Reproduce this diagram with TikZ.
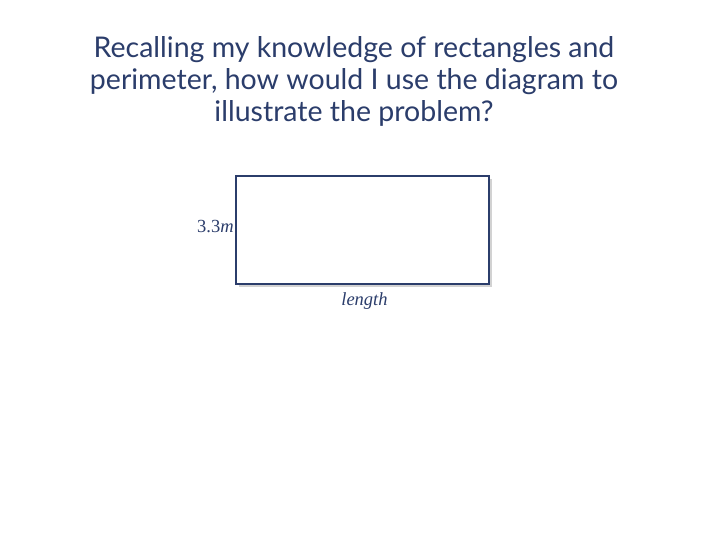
\documentclass[tikz,border=0pt]{standalone}
\usepackage{fontspec}
\setmainfont{Lato}
\newfontfamily\labelfont{Liberation Serif}
\usepackage{tikz}
\usetikzlibrary{positioning}
\definecolor{navy}{HTML}{2B3D6B}
\tikzset{
	title/.style={text=navy, align=center, font=\fontsize{28.5}{32}\selectfont},
	sidelabel/.style={text=navy, font=\labelfont\fontsize{18.5}{20}\selectfont},
	box/.style={draw=navy, line width=1.6pt, fill=white, minimum width=253pt, minimum height=108pt, inner sep=0pt}
}
\begin{document}
\begin{tikzpicture}[x=1pt, y=-1pt]
	\useasboundingbox[fill=white] (0,0) rectangle (720,540);
	% question
	\node[title] (question) at (354,81) {Recalling my knowledge of rectangles and\\perimeter, how would I use the diagram to\\illustrate the problem?};
	% rectangle with its shadow
	\fill[black!35, opacity=.5] (239,179) rectangle (492,287);
	\node[box] (rect) at (362.5,230) {};
	\node[sidelabel, left=-2pt of rect.west, yshift=3pt] (width) {3.3\textit{m}};
	\node[sidelabel, below=4pt of rect.south, xshift=2pt] (length) {\textit{length}};
\end{tikzpicture}
\end{document}
